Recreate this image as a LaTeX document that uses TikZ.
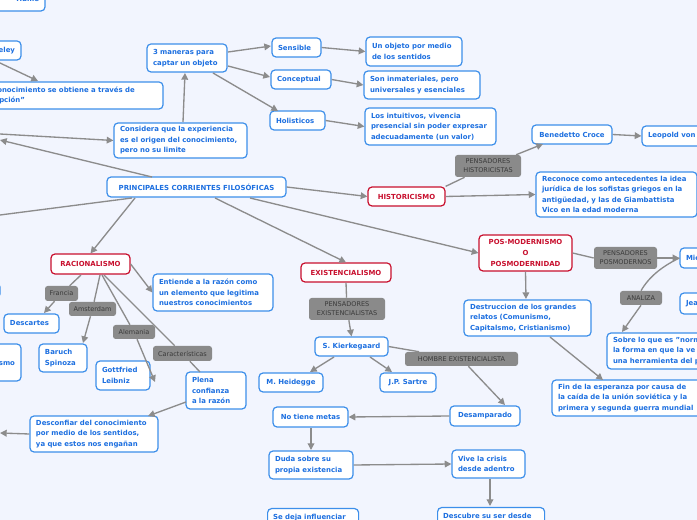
\documentclass[tikz,border=0pt]{standalone}
\usepackage{fontspec}
\setmainfont{DejaVu Sans}
\usetikzlibrary{arrows.meta}
\definecolor{bg}{HTML}{F2F5FE}
\definecolor{bl}{HTML}{1C6FE0}
\definecolor{bb}{HTML}{3D8FEA}
\definecolor{rd}{HTML}{C8102E}
\definecolor{gl}{HTML}{8A8A8A}
\definecolor{gt}{HTML}{3A3A3A}
\definecolor{ln}{HTML}{8C8C8C}
\hyphenpenalty=10000 \exhyphenpenalty=10000 \hbadness=10000 \hfuzz=100pt
\tikzset{
 base/.style={rounded corners=3pt, inner sep=0pt, font=\fontsize{5.2}{7.9}\selectfont\bfseries},
 bx/.style={base, draw=bb, line width=0.9pt, fill=white, text=bl},
 rx/.style={base, draw=rd, line width=0.9pt, fill=white, text=rd},
 gx/.style={base, fill=gl, text=gt, font=\fontsize{4.9}{6.6}\selectfont, rounded corners=2pt},
 ar/.style={draw=ln, line width=1pt, -{Triangle[width=5pt,length=5pt]}},
 pl/.style={draw=ln, line width=1pt},
}
\newcommand\mybox[7]{\node[#1, minimum width={(#5-#3)*0.75pt}, minimum height={(#6-#4)*0.75pt}, text width={(#5-#3-12)*0.75pt}, align=left] (#2) at ({(#3+#5)/2},{(#4+#6)/2}) {#7};}
\newcommand\mycbox[7]{\node[#1, minimum width={(#5-#3)*0.75pt}, minimum height={(#6-#4)*0.75pt}, align=center] (#2) at ({(#3+#5)/2},{(#4+#6)/2}) {#7};}
\begin{document}
\begin{tikzpicture}[x=0.75pt,y=-0.75pt]
\useasboundingbox (0,0) rectangle (697,520);
\fill[bg] (0,0) rectangle (697,520);
\clip (0,0) rectangle (697,520);
% top left
\mybox{bx}{hume}{-40}{-12}{45}{11}{\hfill Hume}
\mybox{bx}{berk}{-40}{41}{21}{60}{\hfill Berkeley}
\mybox{bx}{quote}{-38}{82}{163}{109}{"Todo conocimiento se obtiene a través de\\la percepción"}
\mybox{bx}{tres}{147}{44}{227}{72}{3 maneras para\\captar un objeto}
\mybox{bx}{sens}{272}{38}{321}{57}{Sensible}
\mybox{bx}{conc}{271}{70}{331}{89}{Conceptual}
\mybox{bx}{holi}{270}{111}{325}{130}{Holisticos}
\mybox{bx}{obj}{366}{37}{462}{66}{Un objeto por medio\\de los sentidos}
\mybox{bx}{inm}{364}{71}{480}{99}{Son inmateriales, pero\\universales y esenciales}
\mybox{bx}{intu}{365}{108}{496}{145}{Los intuitivos, vivencia\\presencial sin poder expresar\\adecuadamente (un valor)}
\mybox{bx}{cons}{114}{123}{247}{158}{Considera que la experiencia\\es el origen del conocimiento,\\pero no su limite}
\mycbox{bx}{main}{107}{177}{286}{197}{PRINCIPALES CORRIENTES FILOSÓFICAS}
% historicismo
\mycbox{rx}{hist}{368}{187}{445}{206}{HISTORICISMO}
\mycbox{gx}{ph}{455}{155}{521}{177}{PENSADORES\\HISTORICISTAS}
\mycbox{bx}{croce}{532}{125}{612}{144}{Benedetto Croce}
\mybox{bx}{leop}{642}{126}{740}{146}{Leopold von Ranke}
\mybox{bx}{reco}{536}{172}{697}{217}{Reconoce como antecedentes la idea\\jurídica de los sofistas griegos en la\\antigüedad, y las de Giambattista\\Vico en la edad moderna}
% posmodernismo
\mycbox{rx}{pos}{479}{235}{572}{271}{POS-MODERNISMO\\O\\POSMODERNIDAD}
\mycbox{gx}{pp}{594}{247}{657}{269}{PENSADORES\\POSMODERNOS}
\mybox{bx}{mi}{680}{248}{760}{268}{Michel Foucault}
\mycbox{gx}{anal}{620}{291}{662}{305}{ANALIZA}
\mybox{bx}{je}{680}{293}{770}{314}{Jean Baudrillard}
\mybox{bx}{sobre}{607}{333}{780}{369}{Sobre lo que es "normal" y\\la forma en que la ve como\\una herramienta del poder}
\mybox{bx}{destr}{464}{300}{591}{336}{Destruccion de los grandes\\relatos (Comunismo,\\Capitalsmo, Cristianismo)}
\mybox{bx}{fin}{552}{380}{705}{416}{Fin de la esperanza por causa de\\la caída de la unión soviética y la\\primera y segunda guerra mundial}
% racionalismo
\mycbox{rx}{rac}{51}{254}{130}{274}{RACIONALISMO}
\mybox{bx}{ent}{153}{274}{273}{311}{Entiende a la razón como\\un elemento que legitima\\nuestros conocimientos}
\mycbox{gx}{fr}{45}{286}{78}{301}{Francia}
\mycbox{gx}{am}{69}{302}{116}{316}{Amsterdam}
\mycbox{gx}{al}{113}{325}{155}{339}{Alemania}
\mycbox{gx}{ca}{153}{346}{212}{361}{Características}
\mybox{bx}{desc}{4}{314}{59}{333}{Descartes}
\mybox{bx}{spin}{39}{344}{87}{372}{Baruch\\Spinoza}
\mybox{bx}{leib}{96}{361}{150}{390}{Gottfried\\Leibniz}
\mybox{bx}{plena}{186}{372}{246}{409}{Plena\\confianza\\a la razón}
\mybox{bx}{lx1}{-40}{283}{0}{298}{}
\mybox{bx}{lx2}{-60}{344}{21}{381}{\hfill Racionalismo}
\mybox{bx}{desconf}{30}{416}{158}{452}{Desconfiar del conocimiento\\por medio de los sentidos,\\ya que estos nos engañan}
% existencialismo
\mycbox{rx}{exis}{301}{263}{391}{282}{EXISTENCIALISMO}
\mycbox{gx}{pe}{309}{298}{385}{320}{PENSADORES\\EXISTENCIALISTAS}
\mycbox{bx}{kier}{315}{337}{388}{356}{S. Kierkegaard}
\mycbox{bx}{heid}{259}{373}{323}{392}{M. Heidegge}
\mycbox{bx}{sart}{380}{373}{436}{392}{J.P. Sartre}
\mycbox{gx}{he}{405}{352}{518}{366}{HOMBRE EXISTENCIALISTA}
\mycbox{bx}{desa}{450}{406}{520}{426}{Desamparado}
\mycbox{bx}{meta}{273}{407}{348}{427}{No tiene metas}
\mybox{bx}{duda}{269}{451}{353}{479}{Duda sobre su\\propia existencia}
\mybox{bx}{vive}{452}{450}{525}{478}{Vive la crisis\\desde adentro}
\node[bx, minimum width={91*0.75pt}, text width={80*0.75pt}, inner ysep={6*0.75pt}, align=left, anchor=north west] (deja) at (267,508) {Se deja influenciar\\por los demás};
\node[bx, minimum width={107*0.75pt}, text width={96*0.75pt}, inner ysep={6*0.75pt}, align=left, anchor=north west] (descu) at (437,507) {Descubre su ser desde\\su interior};
% coordinates
\coordinate (L1) at (0,63);
\coordinate (L2) at (0,134);
\coordinate (L3) at (0,140);
\coordinate (L4) at (0,215);
\coordinate (L5) at (0,433);
% edges
\draw[ar] (L1) -- (38,81);
\draw[ar] (183,122) -- (185,73);
\draw[ar] (228,52) -- (271,46);
\draw[ar] (228,66) -- (270,77);
\draw[ar] (213,73) -- (278,111);
\draw[ar] (sens.east) -- (obj.west);
\draw[ar] (conc.east) -- (inm.west);
\draw[ar] (holi.east) -- (intu.west);
\draw[ar] (L2) -- (cons.west);
\draw[ar] (152,177) -- (L3);
\draw[pl] (132,198) -- (L4);
\draw[ar] (main.east) -- (hist.west);
\draw[ar] (135,198) -- (rac.north);
\draw[ar] (215,198) -- (exis.north);
\draw[ar] (250,198) -- (pos.west);
\draw[pl] (hist.north east) -- (ph);
\draw[ar] (ph) -- (543,144);
\draw[ar] (croce.east) -- (leop.west);
\draw[ar] (hist.east) -- (reco.west);
\draw[pl] (pos.east) -- (pp.west);
\draw[ar] (pp.east) -- (mi.west);
\draw[pl] (mi.west) .. controls (665,265) and (650,275) .. (anal.north);
\draw[ar] (anal.south) -- (622,332);
\draw[ar] (pos.south) -- (526,299);
\draw[ar] (550,337) -- (603,380);
\draw[ar] (rac.east) -- (ent.west);
\draw[pl] (81,275) -- (fr);
\draw[ar] (fr) -- (44,313);
\draw[pl] (100,275) -- (am);
\draw[ar] (am) -- (83,343);
\draw[pl] (102,275) -- (al);
\draw[ar] (al) -- (155,382);
\draw[pl] (104,275) -- (ca);
\draw[pl] (ca) -- (200,372);
\draw[ar] (186,402) -- (148,416);
\draw[ar] (desconf.west) -- (L5);
\draw[pl] (exis.south) -- (pe);
\draw[ar] (pe) -- (kier.north);
\draw[ar] (334,357) -- (310,372);
\draw[ar] (370,357) -- (392,372);
\draw[pl] (kier.east) -- (he);
\draw[ar] (he) -- (505,405);
\draw[ar] (desa.west) -- (meta.east);
\draw[ar] (311,428) -- (311,450);
\draw[ar] (duda.east) -- (vive.west);
\draw[ar] (490,479) -- (490,506);
\end{tikzpicture}
\end{document}
